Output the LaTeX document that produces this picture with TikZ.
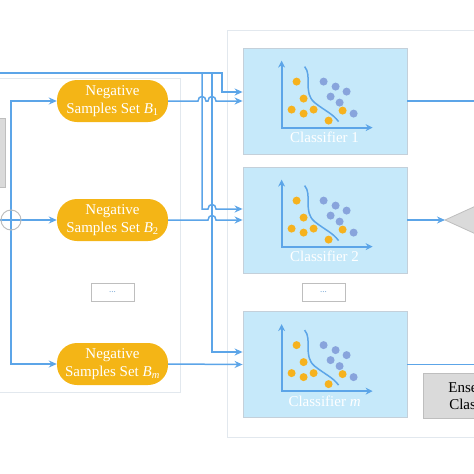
\documentclass[tikz,border=0pt]{standalone}
\usepackage{fontspec}
\setmainfont{Liberation Serif}
\usetikzlibrary{arrows.meta,calc}
\definecolor{lineblue}{RGB}{92,165,232}
\definecolor{setorange}{RGB}{244,181,22}
\definecolor{clfblue}{RGB}{198,233,250}
\definecolor{clfborder}{RGB}{196,208,218}
\definecolor{dotorange}{RGB}{246,178,30}
\definecolor{dotblue}{RGB}{136,164,220}
\definecolor{panelgray}{RGB}{226,232,238}
\definecolor{grayfill}{RGB}{218,218,218}
\definecolor{grayedge}{RGB}{190,190,190}
\definecolor{ellipsistext}{RGB}{110,160,210}
\newcommand{\clfplot}[2]{%
\begin{scope}[shift={(#1.north west)}]
\draw[axisline] (39,13) -- (39,80) -- (130,80);
\draw[lineblue, line width=1.5pt] (62,19) .. controls (70,28) and (60,45) .. (72,55) .. controls (82,63) and (90,66) .. (96,74);
\foreach \px/\py in {54/34,61/51,49/62,61/66,71/62,86/73,100/63} {\node[odot] at (\px,\py) {};}
\foreach \px/\py in {81/34,93/39,104/44,88/49,97/55,111/66} {\node[bdot] at (\px,\py) {};}
\node[clflabel] (#1lab) at (82,90) {#2};
\end{scope}}
\begin{document}
\begin{tikzpicture}[x=1pt,y=-1pt,
  flow/.style={draw=lineblue, line width=1.5pt, -{Stealth[length=8pt,width=7pt]}},
  flowline/.style={draw=lineblue, line width=1.5pt},
  axisline/.style={draw=lineblue, line width=1.8pt, {Stealth[length=7pt,width=7pt]}-{Stealth[length=7pt,width=7pt]}},
  negset/.style={rectangle, rounded corners=20pt, fill=setorange, text=white, minimum width=111pt, minimum height=42pt, align=center, font=\fontsize{15}{18}\selectfont, inner sep=0pt},
  clfbox/.style={rectangle, fill=clfblue, draw=clfborder, line width=0.8pt, minimum width=164pt, minimum height=106pt},
  ellipsisbox/.style={rectangle, draw=grayedge, line width=1pt, minimum width=43pt, minimum height=18pt, font=\fontsize{9}{10}\selectfont, text=ellipsistext, inner sep=0pt},
  odot/.style={circle, fill=dotorange, minimum size=8pt, inner sep=0pt},
  bdot/.style={circle, fill=dotblue, minimum size=8pt, inner sep=0pt},
  clflabel/.style={text=white, font=\fontsize{15}{18}\selectfont, inner sep=0pt},
  ensbox/.style={rectangle, fill=grayfill, draw=grayedge, line width=0.8pt, minimum width=110pt, minimum height=45pt, align=center, font=\fontsize{15}{17}\selectfont},
  graybar/.style={rectangle, fill=grayfill, draw=grayedge, line width=0.6pt, minimum width=7pt, minimum height=69pt, inner sep=0pt},
  junction/.style={circle, draw=grayedge, line width=1pt, minimum size=20pt, inner sep=0pt},
  panel/.style={draw=panelgray, line width=0.9pt}
]
\useasboundingbox (0,0) rectangle (474,474);
\clip (0,0) rectangle (474,474);
% containers
\draw[panel] (-5,78) rectangle (180,392);
\draw[panel] (227,30) rectangle (490,437);
% left gray bar
\node[graybar] (gbar) at (1.5,152.5) {};
% negative sample sets
\node[negset] (B1) at (112.5,101) {Negative\\Samples Set \textit{B}\textsubscript{1}};
\node[negset] (B2) at (112.5,220) {Negative\\Samples Set \textit{B}\textsubscript{2}};
\node[negset] (Bm) at (112.5,364) {Negative\\Samples Set \textit{B}\textsubscript{\textit{m}}};
\node[ellipsisbox] (dl) at (112.5,292) {...};
% classifiers
\node[clfbox] (c1) at (325,101) {};
\node[clfbox] (c2) at (325,220) {};
\node[clfbox] (cm) at (325,364.5) {};
\node[ellipsisbox] (dr) at (323.5,292) {...};
\clfplot{c1}{Classifier 1}
\clfplot{c2}{Classifier 2}
\clfplot{cm}{Classifier \textit{m}}
% ensemble and triangle
\node[ensbox] (ens) at (478,395.5) {Ensemble\\Classifier};
\coordinate (tri) at (445,220);
\filldraw[fill=grayfill, draw=grayedge, line width=0.8pt] (tri) -- (500,195) -- (500,245) -- cycle;
% left distribution
\coordinate (inL) at (0,220);
\coordinate (inT) at (0,73);
\draw[flow] (11,220) |- (B1.west);
\draw[flow] (11,220) |- (Bm.west);
\draw[flow] (inL) -- (B2.west);
\node[junction] (jn) at (11,220) {};
% top line and branches
\coordinate (t1) at (222,73);
\coordinate (t2) at (202,73);
\coordinate (t3) at (212,73);
\draw[flow] (inT) -- (t1) |- ([yshift=9pt]c1.west);
\draw[flow] (t2) -- (202,209) -- (208,209) .. controls (208,203) and (216,203) .. (216,209) -- ([yshift=11pt]c2.west);
\draw[flow] (t3) |- ([yshift=12.5pt]cm.west);
% set outputs with hops
\draw[flow] (B1.east) -- (198,101) .. controls (198,95) and (206,95) .. (206,101) -- (208,101) .. controls (208,95) and (216,95) .. (216,101) -- (c1.west);
\draw[flow] (B2.east) -- (208,220) .. controls (208,214) and (216,214) .. (216,220) -- (c2.west);
\draw[flow] (Bm.east) -- (cm.west);
% classifier outputs
\coordinate (o1) at (474,101);
\coordinate (o3) at (474,364.5);
\draw[flowline] (c1.east) -- (o1);
\draw[flow] (c2.east) -- (tri);
\draw[flowline] (cm.east) -- (o3);
\end{tikzpicture}
\end{document}
